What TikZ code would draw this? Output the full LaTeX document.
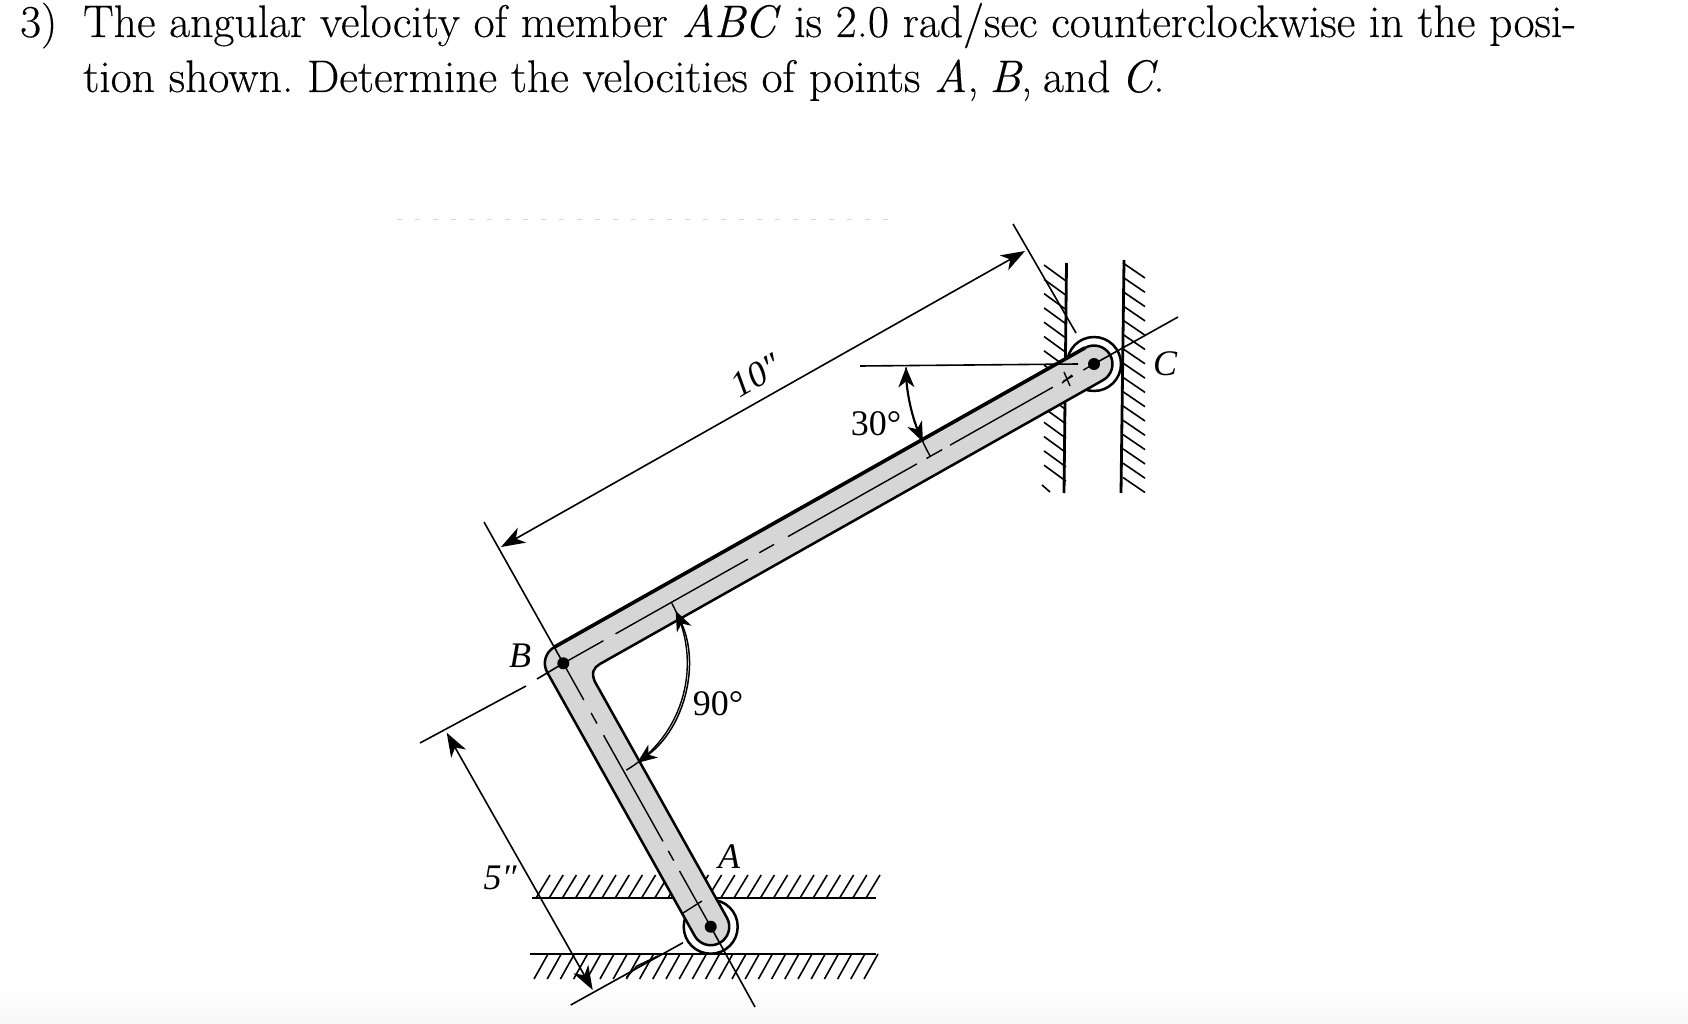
\documentclass[tikz,border=0pt]{standalone}
\usepackage{fontspec}
\setmainfont{Latin Modern Roman}[FakeBold=0.35]
\newfontfamily\figfont{Liberation Serif}
\usetikzlibrary{calc,arrows.meta}
\tikzset{
  thinl/.style={line width=1.6pt,black},
  wall/.style={line width=2.8pt,black},
  hatchl/.style={line width=1.6pt,black},
  edge/.style={line width=2.5pt,black},
  axisl/.style={line width=1.4pt,black},
  dimarrow/.style={line width=1.6pt,black,{Stealth[length=24pt,width=17pt,inset=7pt]}-{Stealth[length=24pt,width=17pt,inset=7pt]}},
  anglearrow/.style={line width=1.5pt,black,{Stealth[length=20pt,width=16pt,inset=6pt]}-{Stealth[length=20pt,width=16pt,inset=6pt]}},
  figlabel/.style={font=\figfont\fontsize{36}{36}\selectfont,inner sep=0pt},
  figital/.style={font=\figfont\itshape\fontsize{36}{36}\selectfont,inner sep=0pt},
  prob/.style={font=\fontsize{45.6}{50}\selectfont\frenchspacing,anchor=base west,inner sep=0pt}
}
\begin{document}
\begin{tikzpicture}[x=1pt,y=-1pt]
\useasboundingbox (0,0) rectangle (1688,1024);
\fill[white] (0,0) rectangle (1688,1024);
\shade[top color=white,bottom color=black!3] (0,985) rectangle (1688,1024);
% problem text
\node[prob] (num) at (20,37) {3)};
\node[prob] (l1) at (83,37) {The angular velocity of member \textit{A\kern-1pt B\kern-1pt C} is 2.0 rad/sec counterclockwise in the posi-};
\node[prob] (l2) at (83,92) {tion shown. Determine the velocities of points \textit{A},\kern-3pt{} \textit{B},\kern-3pt{} and\kern-3pt{} \textit{C}.};
% faint crop remnant
\draw[black!15,line width=1pt,dash pattern=on 5pt off 13pt] (397,220) -- (900,220);
% pins
\coordinate (A) at (710.7,926.7);
\coordinate (B) at (563.3,663.3);
\coordinate (C) at (1094,364);
% hatching
\foreach \x in {536,549.2,...,870} \draw[hatchl] (\x,898) -- (\x+14,875);
\foreach \x in {548,561.2,...,878} \draw[hatchl] (\x,954) -- (\x-14,979);
\foreach \y in {265,279.3,...,476} \draw[hatchl] (1044,\y) -- (1066,\y+16);
\draw[hatchl] (1042,485) -- (1050,492);
\foreach \y in {263,277.3,...,478} \draw[hatchl] (1123,\y) -- (1145,\y+15);
% walls
\draw[wall] (532,898) -- (876,898);
\draw[wall] (530,954) -- (876,954);
\draw[wall] (1066.5,263) -- (1064,493);
\draw[wall] (1124,260) -- (1121,493);
% bushings
\draw[edge,fill=white] (A) circle[radius=27];
\draw[edge,fill=white] (C) circle[radius=27];
% member
\filldraw[edge,fill=black!16]
  (694.6,935.7) -- (547.2,672.3) arc[start angle=150.8,end angle=240.6,radius=18.5]
  -- (1084.9,347.9) arc[start angle=-119.4,end angle=60.6,radius=18.5]
  -- (599.9,664.0) .. controls (593.6,667.5) and (591.0,672.9) .. (594.9,681.7)
  -- (726.9,917.7) arc[start angle=-29.2,end angle=150.8,radius=18.5] -- cycle;
\draw[line width=3.6pt] (554.2,647.2) -- (1084.9,347.9);
% centre lines
\foreach \a/\b in {0/46,60/212,225/242,258/406,417/435,444/562,574/585,597/609}
  \draw[axisl] ($(B)!\a pt!(C)$) -- ($(B)!\b pt!(C)$);
\foreach \a/\b in {0/42,57/69,82.5/204,215/226,238/301.8}
  \draw[axisl] ($(B)!\a pt!(A)$) -- ($(B)!\b pt!(A)$);
% extension lines
\coordinate (bt) at (484,522);
\coordinate (ct) at (1013,224);
\coordinate (cb) at (1076,333);
\coordinate (ce) at (1178,317);
\coordinate (ae) at (755,1007);
\coordinate (bl1) at (537,679);
\coordinate (bl2) at (526,686);
\coordinate (bl3) at (420,743);
\coordinate (al1) at (570.7,1005);
\coordinate (al2) at (683,942.7);
\coordinate (al3) at (683,913);
\coordinate (al4) at (702,901);
\coordinate (h1) at (860,366);
\coordinate (h2) at (1078,364);
\coordinate (w1) at (626.7,977);
\coordinate (w2) at (637,966);
\coordinate (w3) at (658,956);
\draw[thinl] (bt) -- (B);
\draw[thinl] (ct) -- (cb);
\draw[thinl] (C) -- (ce);
\draw[thinl] (A) -- (ae);
\draw[thinl] (B) -- (bl1);
\draw[thinl] (bl2) -- (bl3);
\draw[thinl] (al1) -- (al2);
\draw[thinl] (w1) -- (w2) -- (w3);
\draw[axisl] (al3) -- (al4);
\draw[thinl] (h1) -- (h2);
\draw[axisl] (1062,383) -- (1072,375);
\draw[axisl] (1064,372) -- (1070,386);
% dimensions
\coordinate (d10a) at (501,547);
\coordinate (d10b) at (1025,251);
\coordinate (d5a) at (446.7,732.7);
\coordinate (d5b) at (592.7,990);
\draw[dimarrow] (d10a) -- (d10b);
\draw[dimarrow] (d5a) -- (d5b);
% angle arcs
\draw[line width=1.4pt] ($(B)+(-29:124)$) arc[start angle=-29,end angle=59.5,radius=124];
\draw[anglearrow] ($(B)+(-25:124)$) arc[start angle=-25,end angle=53.5,radius=124];
\draw[line width=1.4pt] ($(C)+(179:188)$) arc[start angle=179,end angle=150.6,radius=188];
\draw[anglearrow] ($(C)+(179:188)$) arc[start angle=179,end angle=155.5,radius=188];
% pin dots
\fill (A) circle[radius=6];
\fill (B) circle[radius=6];
\fill (C) circle[radius=6];
% labels
\node[figlabel] (t90) at (718,704) {90°};
\node[figlabel] (t30) at (876,424) {30°};
\node[figital,rotate=30] (t10) at (756,376) {10″};
\node[figital] (t5) at (500,878) {5″};
\node[figital] (ta) at (729,857) {A};
\node[figital] (tb) at (520,656) {B};
\node[figital] (tc) at (1165,364) {C};
\end{tikzpicture}
\end{document}
